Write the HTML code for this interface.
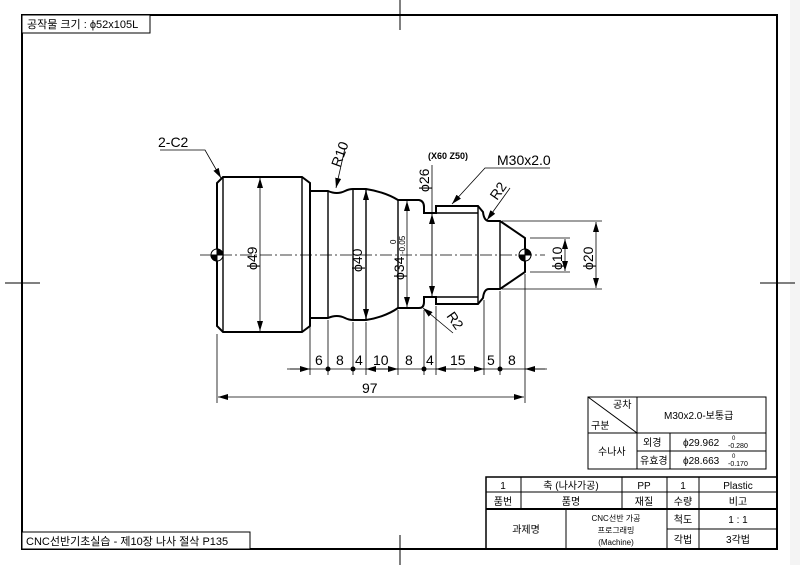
<!DOCTYPE html>
<html><head><meta charset="utf-8"><style>
body{margin:0;background:#fff}
svg{display:block}
text{font-family:"Liberation Sans","Noto Sans CJK KR",sans-serif;fill:#000}
.d{font-family:"DejaVu Sans","Liberation Sans",sans-serif;font-size:14px}
</style></head><body>
<svg width="800" height="565" viewBox="0 0 800 565" xmlns="http://www.w3.org/2000/svg">
<defs>
<marker id="a" viewBox="0 0 10 6" refX="10" refY="3" markerWidth="10" markerHeight="6" orient="auto-start-reverse" markerUnits="userSpaceOnUse"><path d="M0,0 L10,3 L0,6z" fill="#000"/></marker>
</defs>
<rect x="790" y="0" width="10" height="565" fill="#f4f4f4"/>
<rect x="22" y="15" width="755" height="534" fill="none" stroke="#000" stroke-width="2"/>
<line x1="400" y1="0" x2="400" y2="30" stroke="#000"/>
<line x1="400" y1="535" x2="400" y2="565" stroke="#000"/>
<line x1="5" y1="283" x2="40" y2="283" stroke="#000"/>
<line x1="760" y1="283" x2="795" y2="283" stroke="#000"/>
<rect x="22" y="15" width="128" height="18" fill="#fff" stroke="#000"/>
<text x="27" y="28" font-size="11">공작물 크기 : ϕ52x105L</text>
<rect x="22" y="532" width="228" height="17" fill="#fff" stroke="#000"/>
<text x="26" y="545" font-size="11">CNC선반기초실습 - 제10장 나사 절삭 P135</text>

<line x1="200" y1="255" x2="545" y2="255" stroke="#000" stroke-width="0.8" stroke-dasharray="12,3,2,3"/>

<g fill="none" stroke="#000" stroke-width="2">
<path d="M223,177 L302,177 L310,183 L310,326 L302,332 L223,332 L217,326 L217,183 Z"/>
<path d="M310,191 L328,191 Q337,195 345,191 Q349,189 353,189 L366,189 Q385,192 398,200 L419,200 Q424,201 424,207 L424,213 L436,213 L436,206 L478,206 L483,212 Q484,221 489,221 L500,221 L525,238 L525,272 L500,289 L489,289 Q484,289 483,298 L478,304 L436,304 L436,297 L424,297 L424,302 Q424,308 419,308 L398,308 Q385,317 366,320 L353,320 Q349,320 345,318 Q337,314 328,318 L310,318"/>
</g>
<g stroke="#000" stroke-width="1.4" fill="none">
<line x1="223" y1="177" x2="223" y2="332"/>
<line x1="302" y1="177" x2="302" y2="332"/>
<line x1="328" y1="191" x2="328" y2="318"/>
<line x1="353" y1="189" x2="353" y2="320"/>
<line x1="366" y1="189" x2="366" y2="320"/>
<line x1="398" y1="200" x2="398" y2="308"/>
<line x1="478" y1="206" x2="478" y2="304"/>
<line x1="436" y1="213" x2="478" y2="213"/>
<line x1="436" y1="297" x2="478" y2="297"/>
<line x1="500" y1="221" x2="500" y2="289"/>
</g>
<g stroke="#000" stroke-width="1">
<circle cx="217" cy="255" r="6" fill="#fff"/><path d="M211,255 A6,6 0 0,0 217,261 L217,255Z M223,255 A6,6 0 0,0 217,249 L217,255Z" fill="#000"/>
<circle cx="525" cy="255" r="6" fill="#fff"/><path d="M519,255 A6,6 0 0,0 525,261 L525,255Z M531,255 A6,6 0 0,0 525,249 L525,255Z" fill="#000"/>
</g>

<g stroke="#000" stroke-width="0.8" fill="none">
<line x1="260" y1="178" x2="260" y2="331" marker-start="url(#a)" marker-end="url(#a)"/>
<line x1="366" y1="190" x2="366" y2="319" marker-start="url(#a)" marker-end="url(#a)"/>
<line x1="407" y1="201" x2="407" y2="307" marker-start="url(#a)" marker-end="url(#a)"/>
<line x1="432" y1="165" x2="432" y2="296" />
<line x1="432" y1="214" x2="432" y2="296" marker-start="url(#a)" marker-end="url(#a)"/>
<line x1="310" y1="320" x2="310" y2="375"/>
<line x1="328" y1="320" x2="328" y2="375"/>
<line x1="353" y1="322" x2="353" y2="375"/>
<line x1="366" y1="322" x2="366" y2="375"/>
<line x1="398" y1="310" x2="398" y2="375"/>
<line x1="424" y1="310" x2="424" y2="375"/>
<line x1="436" y1="306" x2="436" y2="375"/>
<line x1="484" y1="300" x2="484" y2="375"/>
<line x1="500" y1="291" x2="500" y2="375"/>
<line x1="525" y1="274" x2="525" y2="403"/>
<line x1="217" y1="334" x2="217" y2="403"/>
<line x1="287" y1="369" x2="547" y2="369"/>
<line x1="290" y1="369" x2="310" y2="369" marker-end="url(#a)"/>
<line x1="386" y1="369" x2="366" y2="369" marker-end="url(#a)"/>
<line x1="378" y1="369" x2="398" y2="369" marker-end="url(#a)"/>
<line x1="456" y1="369" x2="436" y2="369" marker-end="url(#a)"/>
<line x1="464" y1="369" x2="484" y2="369" marker-end="url(#a)"/>
<line x1="545" y1="369" x2="525" y2="369" marker-end="url(#a)"/>
<line x1="218" y1="397" x2="524" y2="397" marker-start="url(#a)" marker-end="url(#a)"/>
<line x1="502" y1="221" x2="602" y2="221"/>
<line x1="502" y1="289" x2="602" y2="289"/>
<line x1="596" y1="222" x2="596" y2="288" marker-start="url(#a)" marker-end="url(#a)"/>
<line x1="530" y1="238" x2="570" y2="238"/>
<line x1="530" y1="272" x2="570" y2="272"/>
<line x1="565" y1="239" x2="565" y2="271" marker-start="url(#a)" marker-end="url(#a)"/>
<polyline points="160,150 205,150 221,178" marker-end="url(#a)"/>
<line x1="345" y1="148" x2="336" y2="188" marker-end="url(#a)"/>
<polyline points="550,168 485,168 452,204" marker-end="url(#a)"/>
<line x1="510" y1="188" x2="487" y2="220" marker-end="url(#a)"/>
<line x1="453" y1="333" x2="423" y2="308" marker-end="url(#a)"/>
</g>
<g fill="#000">
<circle cx="328" cy="369" r="2.5"/><circle cx="353" cy="369" r="2.5"/><circle cx="424" cy="369" r="2.5"/><circle cx="500" cy="369" r="2.5"/>
</g>
<g class="d">
<text x="315" y="365">6</text><text x="336" y="365">8</text><text x="355" y="365">4</text>
<text x="373" y="365">10</text><text x="405" y="365">8</text><text x="426" y="365">4</text>
<text x="450" y="365">15</text><text x="487" y="365">5</text><text x="508" y="365">8</text>
<text x="362" y="393">97</text>
<text x="158" y="147">2-C2</text>
<text x="497" y="165">M30x2.0</text>
<text x="428" y="159" font-size="9" font-weight="bold">(X60  Z50)</text>
<text transform="translate(257,270) rotate(-90)">ϕ49</text>
<text transform="translate(362,272) rotate(-90)">ϕ40</text>
<text transform="translate(404,280) rotate(-90)">ϕ34</text>
<text transform="translate(405,254) rotate(-90)" font-size="8">-0.05</text>
<text transform="translate(396,244) rotate(-90)" font-size="8">0</text>
<text transform="translate(429,192) rotate(-90)">ϕ26</text>
<text transform="translate(562,270) rotate(-90)">ϕ10</text>
<text transform="translate(593,270) rotate(-90)">ϕ20</text>
<text transform="translate(340,168) rotate(-70)">R10</text>
<text transform="translate(497,201) rotate(-55)">R2</text>
<text transform="translate(446,316) rotate(55)">R2</text>
</g>

<g stroke="#000" fill="none" stroke-width="1">
<rect x="588" y="397" width="178" height="72"/>
<line x1="637" y1="397" x2="637" y2="469"/>
<line x1="588" y1="433" x2="766" y2="433"/>
<line x1="637" y1="451" x2="766" y2="451"/>
<line x1="670" y1="433" x2="670" y2="469"/>
<line x1="588" y1="397" x2="637" y2="433"/>
</g>
<g font-size="10">
<text x="613" y="408">공차</text><text x="591" y="429">구분</text>
<text x="664" y="419">M30x2.0-보통급</text>
<text x="598" y="455">수나사</text>
<text x="643" y="446">외경</text><text x="640" y="464">유효경</text>
<text x="683" y="446">ϕ29.962</text><text x="683" y="464">ϕ28.663</text>
<text x="732" y="440" font-size="6">0</text><text x="728" y="448" font-size="7">-0.280</text>
<text x="732" y="458" font-size="6">0</text><text x="728" y="466" font-size="7">-0.170</text>
</g>

<g stroke="#000" fill="none">
<rect x="486" y="477" width="291" height="72" stroke-width="1.5"/>
<line x1="486" y1="492" x2="777" y2="492"/>
<line x1="486" y1="509" x2="777" y2="509" stroke-width="2"/>
<line x1="667" y1="529" x2="777" y2="529"/>
<line x1="521" y1="477" x2="521" y2="509"/>
<line x1="622" y1="477" x2="622" y2="509"/>
<line x1="667" y1="477" x2="667" y2="549"/>
<line x1="699" y1="477" x2="699" y2="549"/>
<line x1="566" y1="509" x2="566" y2="549"/>
</g>
<g font-size="10" text-anchor="middle">
<text x="503" y="489">1</text><text x="571" y="489">축 (나사가공)</text><text x="644" y="489">PP</text><text x="683" y="489">1</text><text x="738" y="489">Plastic</text>
<text x="503" y="505">품번</text><text x="571" y="505">품명</text><text x="644" y="505">재질</text><text x="683" y="505">수량</text><text x="738" y="505">비고</text>
<text x="526" y="533">과제명</text>
<text x="616" y="521" font-size="8">CNC선반 가공</text><text x="616" y="533" font-size="8">프로그래밍</text><text x="616" y="545" font-size="8">(Machine)</text>
<text x="683" y="523">척도</text><text x="738" y="523">1 : 1</text>
<text x="683" y="543">각법</text><text x="738" y="543">3각법</text>
</g>
</svg>
</body></html>
